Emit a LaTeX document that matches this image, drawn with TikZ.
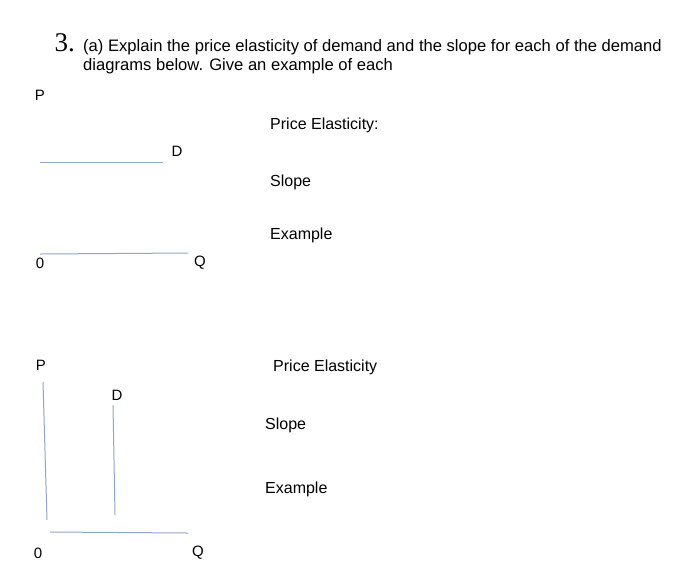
\documentclass[tikz,border=0pt]{standalone}
\usepackage{fontspec}
\setmainfont{Liberation Sans}
\newfontfamily\numfont{Liberation Serif}
\usetikzlibrary{positioning}
\definecolor{LineBlue}{RGB}{143, 166, 204}

\begin{document}
\begin{tikzpicture}[x=1pt, y=-1pt, every node/.style={inner sep=0pt, font=\fontsize{16}{19}\selectfont},
    axislabel/.style={font=\fontsize{15}{17}\selectfont},
    dline/.style={draw=LineBlue, line width=1pt}]
    \useasboundingbox[fill=white] (0,0) rectangle (700,574);

    % question
    \node[anchor=base west, font=\fontsize{16.6}{19}\selectfont] (title1) at (83,51) {(a) Explain the price elasticity of demand and the slope for each of the demand};
    \node[anchor=base west, font=\fontsize{16.6}{19}\selectfont] (title2) at ([yshift=-19pt]title1.base west) {diagrams below. Give an example of each};
    \node[anchor=base east, font=\numfont\fontsize{27}{27}\selectfont] (qnum) at ([xshift=-8pt]title1.base west) {3.};

    % first diagram
    \node[axislabel] (p1) at (40,95) {P};
    \coordinate (d1a) at (40,162);
    \coordinate (d1b) at (163,162);
    \node[axislabel] (dlab1) at (177,151) {D};
    \coordinate (ax1a) at (40,254);
    \coordinate (ax1b) at (188,253);
    \node[axislabel] (zero1) at (40,263) {0};
    \node[axislabel] (q1) at (200,263) {Q};
    \draw[dline] (d1a) -- (d1b);
    \draw[dline] (ax1a) -- (ax1b);

    \node[anchor=base west] (elast1) at (270,129) {Price Elasticity:};
    \node[anchor=base west] (slope1) at (270,186) {Slope};
    \node[anchor=base west] (ex1) at (270,239) {Example};

    % second diagram
    \node[axislabel] (p2) at (41,365) {P};
    \coordinate (ay2a) at (43,382);
    \coordinate (ay2b) at (47,520);
    \coordinate (d2a) at (113,405);
    \coordinate (d2b) at (115,515);
    \node[axislabel] (dlab2) at (117,395) {D};
    \coordinate (ax2a) at (50,532);
    \coordinate (ax2b) at (188,533);
    \node[axislabel] (zero2) at (38,553) {0};
    \node[axislabel] (q2) at (198,553) {Q};
    \draw[dline] (ay2a) -- (ay2b);
    \draw[dline] (d2a) -- (d2b);
    \draw[dline] (ax2a) -- (ax2b);

    \node[anchor=base west] (elast2) at (273,371) {Price Elasticity};
    \node[anchor=base west] (slope2) at (265,429) {Slope};
    \node[anchor=base west] (ex2) at (265,493) {Example};
\end{tikzpicture}
\end{document}
